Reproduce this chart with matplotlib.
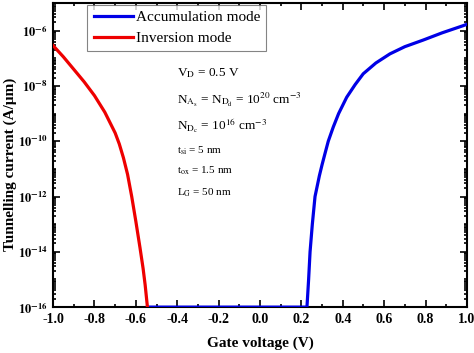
import numpy as np
import matplotlib
matplotlib.use("Agg")
import matplotlib.pyplot as plt
from matplotlib.ticker import FixedLocator, LogLocator, NullFormatter, MultipleLocator

# DATA (log10 of tunnelling current)
v_inv = [-1.0, -0.95, -0.90, -0.85, -0.80, -0.75, -0.70, -0.68, -0.66, -0.64,
         -0.62, -0.60, -0.58, -0.565, -0.555, -0.544]
logi_inv = [-6.54, -6.95, -7.40, -7.85, -8.35, -8.95, -9.70, -10.10, -10.60, -11.20,
            -12.00, -12.90, -13.85, -14.60, -15.20, -16.0]

v_acc = [-0.544, 0.0, 0.227, 0.235, 0.242, 0.253, 0.266, 0.287, 0.30, 0.314, 0.33,
         0.354, 0.38, 0.419, 0.46, 0.499, 0.56, 0.628, 0.70, 0.789, 0.88, 0.982, 1.0]
logi_acc = [-16.0, -16.0, -16.0, -15.0, -14.0, -13.0, -12.0, -11.25, -10.85, -10.45, -10.0,
            -9.49, -9.0, -8.41, -7.95, -7.56, -7.17, -6.84, -6.58, -6.34, -6.08, -5.82, -5.77]

y_major = [1e-16, 1e-14, 1e-12, 1e-10, 1e-8, 1e-6]
y_labels = [r"$\mathbf{10^{-16}}$", r"$\mathbf{10^{-14}}$", r"$\mathbf{10^{-12}}$",
            r"$\mathbf{10^{-10}}$", r"$\mathbf{10^{-8}}$", r"$\mathbf{10^{-6}}$"]
x_ticks = [-1.0, -0.8, -0.6, -0.4, -0.2, 0.0, 0.2, 0.4, 0.6, 0.8, 1.0]

plt.rcParams["font.family"] = ["Liberation Serif", "DejaVu Serif"]
plt.rcParams["mathtext.fontset"] = "stix"

fig = plt.figure(figsize=(4.74, 3.53), dpi=100)
ax = fig.add_axes([0.112, 0.130, 0.873, 0.8615])

ax.plot(v_acc, 10 ** np.array(logi_acc), color="#0000e6", lw=2.3, label="Accumulation mode", zorder=3)
ax.plot(v_inv, 10 ** np.array(logi_inv), color="#ee0000", lw=2.3, label="Inversion mode", zorder=3)

ax.set_yscale("log")
ax.set_xlim(-1.0, 1.0)
ax.set_ylim(1e-16, 1e-5)

ax.set_xticks(x_ticks)
ax.set_xticklabels([f"{v:.1f}" for v in x_ticks], fontweight="bold", fontsize=10)
ax.xaxis.set_minor_locator(MultipleLocator(0.1))

ax.yaxis.set_major_locator(FixedLocator(y_major))
ax.set_yticklabels(y_labels, fontsize=9)
ax.yaxis.set_minor_locator(LogLocator(base=10, subs=np.arange(1, 10), numticks=100))
ax.yaxis.set_minor_formatter(NullFormatter())

ax.tick_params(which="both", direction="in", top=True, right=True, width=1.2)
ax.tick_params(which="major", length=5, pad=4)
ax.tick_params(which="minor", length=2.5)
for s in ax.spines.values():
    s.set_linewidth(1.5)

ax.set_xlabel("Gate voltage (V)", fontweight="bold", fontsize=11, labelpad=8)
ax.set_ylabel("Tunnelling current (A/\u03bcm)", fontweight="bold", fontsize=11)
ax.yaxis.set_label_coords(-0.088, 0.47)

leg = ax.legend(loc="upper left", bbox_to_anchor=(0.083, 0.995), fontsize=11, frameon=True,
                fancybox=False, edgecolor="#666666", borderpad=0.4, handlelength=2.6,
                handletextpad=0.15, labelspacing=0.45, borderaxespad=0.0)
leg.get_frame().set_linewidth(0.8)

tx = 0.30
ax.text(tx, 0.770, r"V$_{\mathrm{D}}$ = 0.5 V", transform=ax.transAxes, fontsize=9.5, va="center")
ax.text(tx, 0.680, r"N$_{\mathrm{A_s}}$ = N$_{\mathrm{D_d}}$ = 10$^{20}$ cm$^{-3}$", transform=ax.transAxes, fontsize=9.5, va="center")
ax.text(tx, 0.598, r"N$_{\mathrm{D_c}}$ = 10$^{16}$ cm$^{-3}$", transform=ax.transAxes, fontsize=9.5, va="center")
ax.text(tx, 0.515, r"t$_{\mathrm{si}}$ = 5 nm", transform=ax.transAxes, fontsize=8, va="center")
ax.text(tx, 0.448, r"t$_{\mathrm{ox}}$ = 1.5 nm", transform=ax.transAxes, fontsize=8, va="center")
ax.text(tx, 0.376, r"L$_{\mathrm{G}}$ = 50 nm", transform=ax.transAxes, fontsize=8, va="center")

fig.savefig("out.png", dpi=100)
